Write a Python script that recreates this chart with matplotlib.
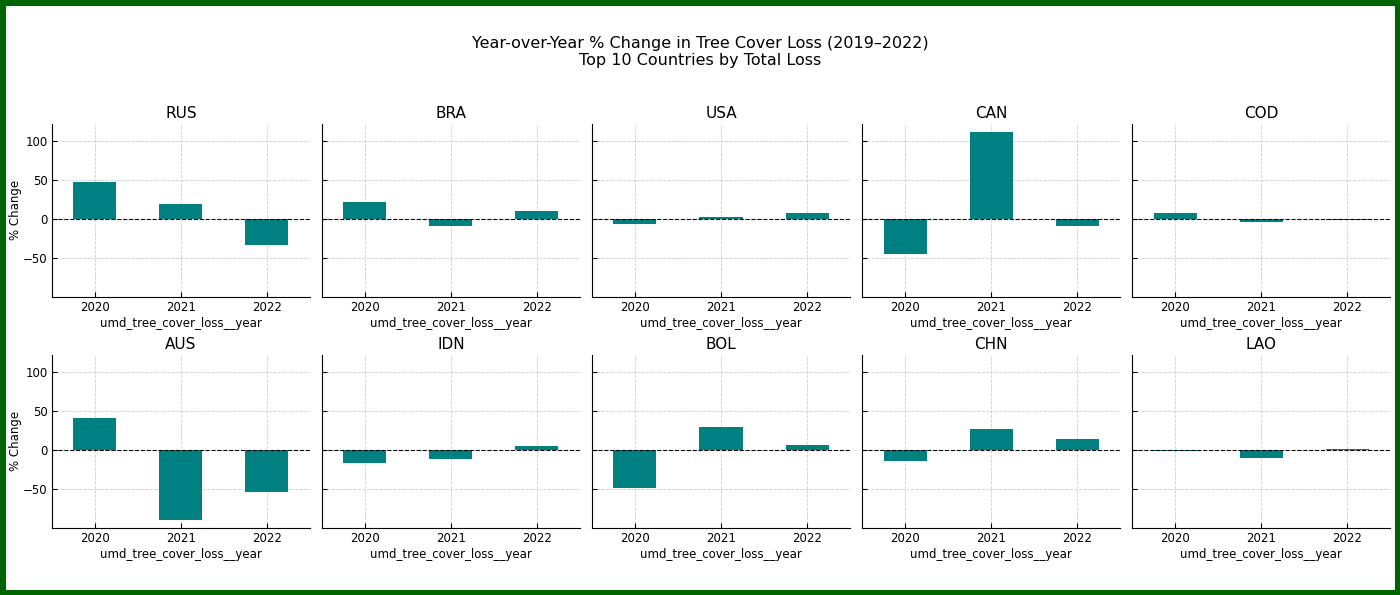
import matplotlib
matplotlib.use("Agg")
import matplotlib.pyplot as plt
from matplotlib.patches import Rectangle

countries = ["RUS", "BRA", "USA", "CAN", "COD", "AUS", "IDN", "BOL", "CHN", "LAO"]
years = ["2020", "2021", "2022"]
changes = {
    "RUS": [47, 19, -33],
    "BRA": [22, -9, 10],
    "USA": [-6, 3, 7],
    "CAN": [-45, 111, -9],
    "COD": [7, -4, -2],
    "AUS": [41, -90, -54],
    "IDN": [-17, -12, 5],
    "BOL": [-49, 29, 6],
    "CHN": [-14, 27, 14],
    "LAO": [-2, -11, 1],
}

fig, axes = plt.subplots(2, 5, figsize=(14, 5.95), dpi=100, sharey=True)
fig.subplots_adjust(left=0.037, right=0.993, top=0.792, bottom=0.113, wspace=0.0465, hspace=0.335)
for ax, c in zip(axes.flat, countries):
    x = range(len(years))
    ax.bar(x, changes[c], width=0.5, color="#008080", zorder=2)
    ax.axhline(0, color="black", linestyle="--", linewidth=0.8, zorder=3)
    ax.set_xticks(list(x))
    ax.set_xticklabels(years)
    ax.set_xlim(-0.5, 2.5)
    ax.set_ylim(-100, 122)
    ax.set_yticks([-50, 0, 50, 100])
    ax.set_title(c, fontsize=11, pad=4)
    ax.set_xlabel("umd_tree_cover_loss__year", fontsize=8.5, labelpad=2)
    ax.grid(True, linestyle="--", color="#cccccc", linewidth=0.6, zorder=0)
    ax.spines["top"].set_visible(False)
    ax.spines["right"].set_visible(False)
    ax.tick_params(labelsize=8.5, direction="in", pad=3)
for r in range(2):
    axes[r, 0].set_ylabel("% Change", fontsize=8.5, labelpad=1)
fig.suptitle("Year-over-Year % Change in Tree Cover Loss (2019–2022)\nTop 10 Countries by Total Loss",
             fontsize=11.5, y=0.94)
fig.patches.append(Rectangle((0, 0), 1, 1, transform=fig.transFigure, fill=False,
                             edgecolor="#006400", linewidth=8))
fig.savefig("out.png", dpi=100)
